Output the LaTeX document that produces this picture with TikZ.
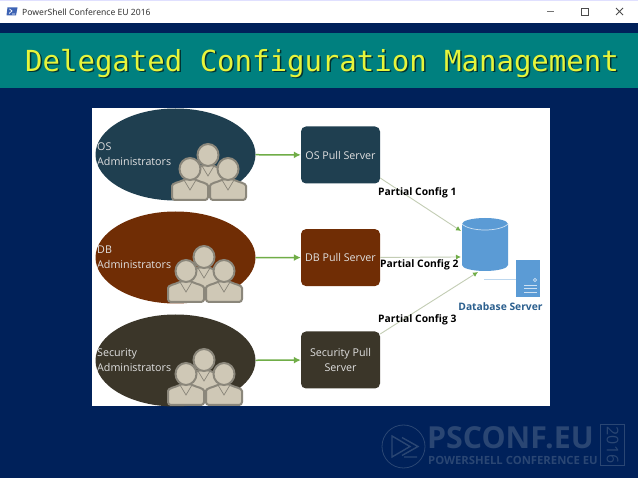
\documentclass[tikz,border=0pt]{standalone}
\usepackage{fontspec}
\setmainfont{Open Sans}
\newfontfamily\titlefont{DejaVu Sans Mono}
\newfontfamily\winfont{Noto Sans}
\usetikzlibrary{arrows.meta,shapes.geometric}
\definecolor{navy}{HTML}{00215A}
\definecolor{teal2}{HTML}{00807F}
\definecolor{titley}{HTML}{E6F53C}
\definecolor{osc}{HTML}{1F3F50}
\definecolor{dbc}{HTML}{702D05}
\definecolor{secc}{HTML}{3B3629}
\definecolor{arrowg}{HTML}{70AD47}
\definecolor{thing}{HTML}{C3CDB4}
\definecolor{pfill}{HTML}{CFC8B6}
\definecolor{pline}{HTML}{8B877B}
\definecolor{blue1}{HTML}{5B9BD5}
\definecolor{dbtxt}{HTML}{2B5F8E}
\definecolor{logoc}{HTML}{2A4673}
\definecolor{psblue}{HTML}{3D63B4}
\tikzset{
  x=1pt,y=-1pt,
  admin/.style={ellipse,minimum width=160pt,minimum height=92pt,inner sep=0pt},
  pull/.style={draw=none,rounded corners=5pt,minimum width=79pt,minimum height=57pt,inner sep=1pt,align=center,text=white!88!black,font=\fontsize{10.7}{14.5}\selectfont},
  adminlabel/.style={anchor=west,align=left,text=white!88!black,inner sep=0pt,font=\fontsize{10.7}{14.5}\selectfont},
  partial/.style={font=\bfseries\fontsize{10.3}{12}\selectfont,text=black,inner sep=0pt,anchor=west},
  flow/.style={draw=arrowg,line width=1.5pt,-{Latex[length=7pt,width=7pt]}},
  thin flow/.style={draw=thing,line width=.9pt,-{Latex[length=5pt,width=5pt,color=arrowg,fill=arrowg]}},
  person/.pic={
    \draw[fill=pfill,draw=pline,line width=2pt,rounded corners=3pt]
      (-18,31) -- (-18,20) .. controls (-18,14) and (-10,13) .. (-5,10)
      -- (5,10) .. controls (10,13) and (18,14) .. (18,20) -- (18,31) -- cycle;
    \draw[pline,line width=.7pt] (-6,11) -- (0,21) -- (6,11);
    \draw[fill=pfill,draw=pline,line width=2pt] (0,0) circle[x radius=10.5pt,y radius=11pt];
  },
  crowd/.pic={
    \pic at (18,-14) {person};
    \pic at (0,0) {person};
    \pic at (38,0) {person};
  }
}
\begin{document}
\begin{tikzpicture}
\useasboundingbox (0,0) rectangle (638,478);
\fill[navy] (0,0) rectangle (638,478);
% window title bar
\fill[white] (0,0) rectangle (638,23);
\draw[draw=blue!12!white,line width=1.2pt] (0,.6) -- (638,.6);
\fill[psblue] (7.5,7.5) -- (17.5,7.5) -- (16,15.5) -- (6.5,15.5) -- cycle;
\draw[white,line width=.7pt] (9.5,9) -- (12,11) -- (9,13.5) (12,14) -- (15,14);
\node[anchor=west,inner sep=0pt,text=black!80,font=\winfont\fontsize{8.6}{10}\selectfont] (wintitle) at (22,12) {PowerShell Conference EU 2016};
\draw[black!55,line width=.8pt] (547,11.5) -- (554,11.5);
\draw[black!70,line width=.8pt] (581.5,8.5) rectangle (588.5,15);
\draw[black!70,line width=.8pt] (616,8) -- (623,15) (623,8) -- (616,15);
% title
\fill[teal2] (0,33) rectangle (638,88);
\node[anchor=west,inner sep=0pt,text=black!60!teal2] at (26.5,64.5) {\titlefont\fontsize{29}{32}\selectfont Delegated Configuration Management};
\node[anchor=west,inner sep=0pt,text=titley] (title) at (25,63.5) {\titlefont\fontsize{29}{32}\selectfont Delegated Configuration Management};
% panel
\fill[white] (92,108) rectangle (550,406);
% admins
\node[admin,fill=osc] (e1) at (175.5,154.5) {};
\node[admin,fill=dbc] (e2) at (175.5,257.5) {};
\node[admin,fill=secc] (e3) at (175.5,360.5) {};
\node[adminlabel] (l1) at (97,154) {OS\\Administrators};
\node[adminlabel] (l2) at (97,257) {DB\\Administrators};
\node[adminlabel] (l3) at (97,360) {Security\\Administrators};
\pic at (190,169) {crowd};
\pic at (186,271) {crowd};
\pic at (186,374) {crowd};
% pull servers
\node[pull,fill=osc] (s1) at (340.5,155) {OS Pull Server};
\node[pull,fill=dbc] (s2) at (340.5,257.6) {DB Pull Server};
\node[pull,fill=secc] (s3) at (340.5,360) {Security Pull\\Server};
\draw[flow] (e1) -- (s1);
\draw[flow] (e2) -- (s2);
\draw[flow] (e3) -- (s3);
% database
\fill[blue1] (462,224) arc[start angle=180,end angle=0,x radius=23pt,y radius=6pt]
  -- (508,265) arc[start angle=0,end angle=-180,x radius=23pt,y radius=6pt] -- cycle;
\draw[white!70!blue1,line width=.7pt] (462,224) .. controls (470,232) and (500,232) .. (508,224);
\coordinate (dbA) at (461,231);
\coordinate (dbB) at (461,257);
\coordinate (dbC) at (478,272);
\draw[thin flow] (s1.east |- 0,178) -- (dbA);
\draw[thin flow] (s2) -- (dbB);
\draw[thin flow] (s3.east |- 0,334) -- (dbC);
\node[partial] (p1) at (378,193) {Partial Config 1};
\node[partial] (p2) at (380,265) {Partial Config 2};
\node[partial] (p3) at (378,320) {Partial Config 3};
% server
\node[draw=none,fill=blue1,minimum width=24pt,minimum height=37pt,inner sep=0pt] (srv) at (528,278.5) {};
\coordinate (srvL) at (484,279);
\draw[blue1!40!white,line width=.8pt] (srvL) -- (srv.west |- srvL);
\draw[white!70!blue1,line width=.9pt] (524,285) -- (537,285) (524,288.5) -- (537,288.5) (524,292) -- (537,292);
\draw[white!70!blue1,line width=.6pt] (535,280) circle[radius=1.6pt];
\node[inner sep=0pt,text=dbtxt,font=\bfseries\fontsize{10.3}{12}\selectfont] (dbs) at (500.5,306.5) {Database Server};
% logo
\draw[logoc,line width=.8pt] (403.5,446.5) circle[radius=21.5pt];
\draw[logoc,line width=1.4pt,line join=miter] (392,436) -- (410,446.5) -- (392,457) -- cycle;
\draw[logoc,line width=1.4pt] (402,437.5) -- (418,446.5) -- (402,455.5) (404,457) -- (417,457);
\node[anchor=west,inner sep=0pt,text=logoc,font=\bfseries\fontsize{30.3}{33}\selectfont] (lg1) at (427,438) {PSCONF.EU};
\node[anchor=west,inner sep=0pt,text=logoc,font=\bfseries\fontsize{11.3}{12}\selectfont] (lg2) at (428,460.5) {POWERSHELL CONFERENCE EU};
\draw[logoc,line width=.7pt] (600.5,424.5) rectangle (624.5,465.5);
\node[rotate=-90,inner sep=0pt,text=logoc,font=\fontsize{16}{18}\selectfont] (lg3) at (612.5,445) {2016};
\end{tikzpicture}
\end{document}
